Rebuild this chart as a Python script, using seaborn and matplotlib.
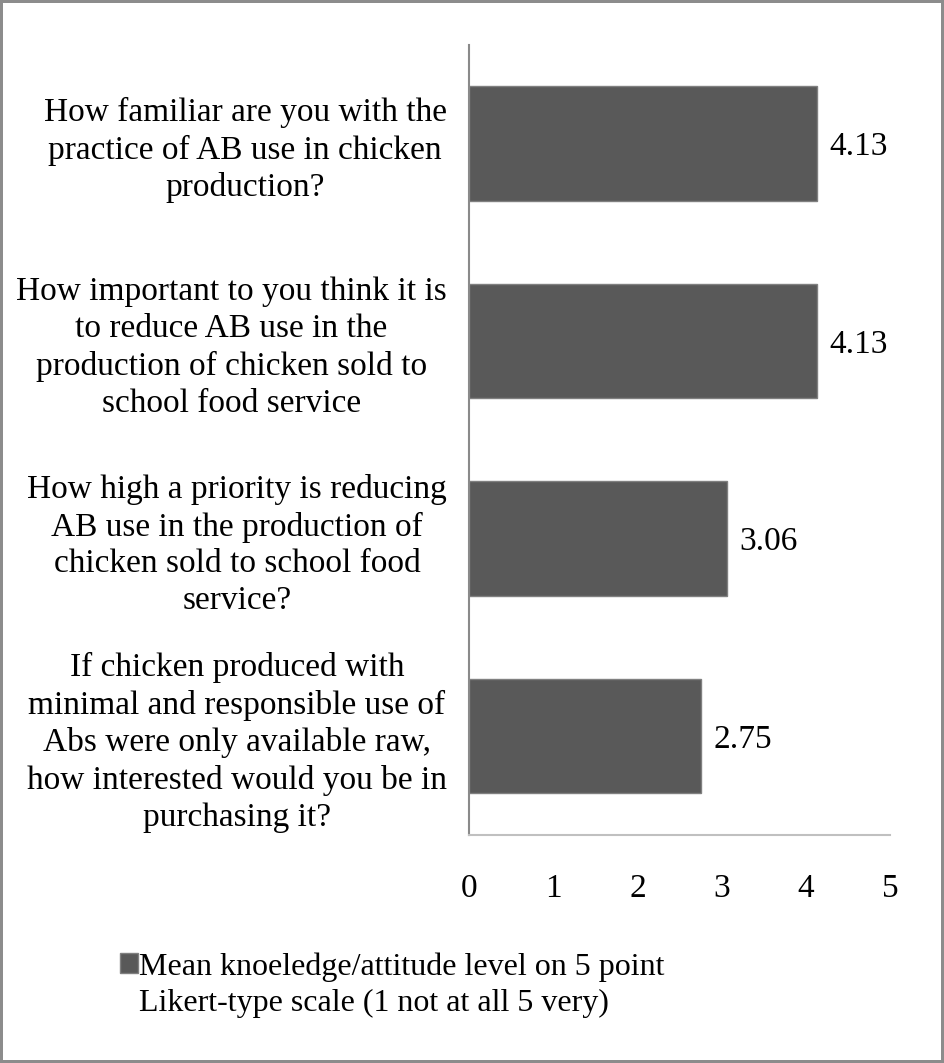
import matplotlib
matplotlib.use("Agg")
import matplotlib.pyplot as plt
import seaborn as sns
import pandas as pd
from matplotlib.patches import Patch

categories = [
    "How familiar are you with the\npractice of AB use in chicken\nproduction?",
    "How important to you think it is\nto reduce AB use in the\nproduction of chicken sold to\nschool food service",
    "How high a priority is reducing\nAB use in the production of\nchicken sold to school food\nservice?",
    "If chicken produced with\nminimal and responsible use of\nAbs were only available raw,\nhow interested would you be in\npurchasing it?",
]
values = [4.13, 4.13, 3.06, 2.75]
x_ticks = [0, 1, 2, 3, 4, 5]
legend_lines = ["Mean knoeledge/attitude level on 5 point",
                "Likert-type scale (1 not at all 5 very)"]

sns.set_theme(style="white")
plt.rcParams['font.family'] = ['Liberation Serif', 'DejaVu Serif']
plt.rcParams['text.color'] = 'black'
FS = 24

fig = plt.figure(figsize=(9.44, 10.63), dpi=100, facecolor="white",
                 edgecolor="#8c8c8c", linewidth=4)
ax = fig.add_axes([469/944, 1-834.5/1063, (890-469)/944, (834.5-45)/1063])

df = pd.DataFrame({"question": categories, "value": values})
sns.barplot(data=df, x="value", y="question", orient="h", color="#595959",
            width=0.58, saturation=1, edgecolor="#808080", linewidth=1, ax=ax)

ax.set_xlim(0, 5)
ax.set_ylim(3.5, -0.5)
ax.set_xticks(x_ticks)
ax.set_xticklabels([str(t) for t in x_ticks], fontsize=FS)
ax.set_xlabel("")
ax.set_ylabel("")
for lab in ax.get_yticklabels():
    lab.set_multialignment("center")
    lab.set_fontsize(FS)
    lab.set_linespacing(1.27)
ax.tick_params(axis="y", length=0, pad=16, colors="black")
ax.tick_params(axis="x", length=0, pad=28, colors="black")

for s in ["top", "right"]:
    ax.spines[s].set_visible(False)
ax.spines["left"].set_color("#8a8a8a")
ax.spines["left"].set_linewidth(1.5)
ax.spines["bottom"].set_color("#c0c0c0")
ax.spines["bottom"].set_linewidth(1.5)
ax.grid(False)

texts = ax.bar_label(ax.containers[0], labels=[f"{v:.2f}" for v in values],
                     padding=9, fontsize=FS, color="black")
for t in texts:
    t.set_va("center_baseline")

handles = [Patch(facecolor="#595959", edgecolor="#808080"),
           Patch(visible=False)]
leg = fig.legend(handles, legend_lines, loc="upper left",
                 bbox_to_anchor=(120/944, 1-952/1063), frameon=False,
                 fontsize=23, handlelength=0.55, handleheight=0.6,
                 handletextpad=0.05, labelspacing=0.22, borderpad=0,
                 borderaxespad=0)
for t in leg.get_texts():
    t.set_color("black")

fig.savefig("out.png", dpi=100, facecolor=fig.get_facecolor(),
            edgecolor=fig.get_edgecolor())
